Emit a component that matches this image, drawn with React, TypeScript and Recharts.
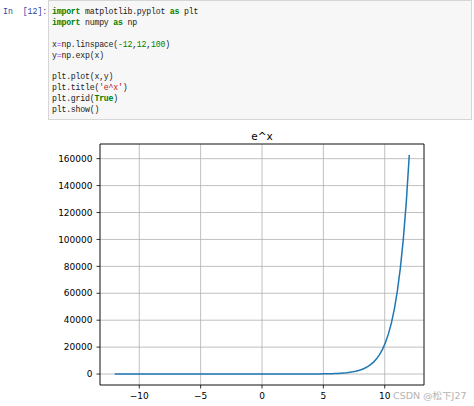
import React from 'react';
import { LineChart, Line, XAxis, YAxis, CartesianGrid, ReferenceLine } from 'recharts';

const xValues = [
  -12, -11.7576, -11.5152, -11.2727, -11.0303, -10.7879, -10.5455, -10.303, -10.0606, -9.8182,
  -9.5758, -9.3333, -9.0909, -8.8485, -8.6061, -8.3636, -8.1212, -7.8788, -7.6364, -7.3939,
  -7.1515, -6.9091, -6.6667, -6.4242, -6.1818, -5.9394, -5.697, -5.4545, -5.2121, -4.9697,
  -4.7273, -4.4848, -4.2424, -4.0, -3.7576, -3.5152, -3.2727, -3.0303, -2.7879, -2.5455,
  -2.303, -2.0606, -1.8182, -1.5758, -1.3333, -1.0909, -0.8485, -0.6061, -0.3636, -0.1212,
  0.1212, 0.3636, 0.6061, 0.8485, 1.0909, 1.3333, 1.5758, 1.8182, 2.0606, 2.303,
  2.5455, 2.7879, 3.0303, 3.2727, 3.5152, 3.7576, 4.0, 4.2424, 4.4848, 4.7273,
  4.9697, 5.2121, 5.4545, 5.697, 5.9394, 6.1818, 6.4242, 6.6667, 6.9091, 7.1515,
  7.3939, 7.6364, 7.8788, 8.1212, 8.3636, 8.6061, 8.8485, 9.0909, 9.3333, 9.5758,
  9.8182, 10.0606, 10.303, 10.5455, 10.7879, 11.0303, 11.2727, 11.5152, 11.7576, 12,
];

const yValues = [
  0.000006144, 0.00000783, 0.000009978, 0.000012715, 0.000016203, 0.000020648, 0.000026313, 0.000033531, 0.00004273, 0.000054452,
  0.00006939, 0.00008843, 0.00011268, 0.0001436, 0.00018299, 0.00023319, 0.00029716, 0.00037868, 0.00048256, 0.00061494,
  0.00078364, 0.0009986, 0.0012726, 0.0016217, 0.0020666, 0.0026335, 0.003356, 0.0042766, 0.0054498, 0.0069449,
  0.00885, 0.011278, 0.014372, 0.018315, 0.023339, 0.029742, 0.037901, 0.048298, 0.061548, 0.078432,
  0.099948, 0.12737, 0.16231, 0.20683, 0.26357, 0.33588, 0.42802, 0.54544, 0.69507, 0.88585,
  1.12886, 1.43856, 1.83321, 2.33612, 2.977, 3.7937, 4.8344, 6.1607, 7.8508, 10.0045,
  12.749, 16.247, 20.704, 26.384, 33.622, 42.846, 54.598, 69.58, 88.66, 112.99,
  143.98, 183.48, 233.82, 297.96, 379.7, 483.87, 616.61, 785.77, 1001.33, 1276.03,
  1626.09, 2072.19, 2640.65, 3365.07, 4288.2, 5464.6, 6963.7, 8874.1, 11308.5, 14410.8,
  18364.1, 23401.9, 29821.7, 38002.7, 48428, 61713, 78643, 100217, 127710, 162755,
];

const xTicks = [-10, -5, 0, 5, 10];
const yTicks = [0, 20000, 40000, 60000, 80000, 100000, 120000, 140000, 160000];
const xDomain = [-13.2, 13.2];
const yDomain = [-8137.75, 170892.75];

const chartTitle = 'e^x';
const promptLabel = 'In  [12]:';
const watermark = 'CSDN @松下J27';

type Tok = [string, string];
const codeLines: Tok[][] = [
  [['kw', 'import'], ['', ' matplotlib.pyplot '], ['kw', 'as'], ['', ' plt']],
  [['kw', 'import'], ['', ' numpy '], ['kw', 'as'], ['', ' np']],
  [],
  [['', 'x'], ['op', '='], ['', 'np.linspace('], ['num', '-12'], ['', ','], ['num', '12'], ['', ','], ['num', '100'], ['', ')']],
  [['', 'y'], ['op', '='], ['', 'np.exp(x)']],
  [],
  [['', 'plt.plot(x,y)']],
  [['', 'plt.title('], ['str', "'e^x'"], ['', ')']],
  [['', 'plt.grid('], ['kw', 'True'], ['', ')']],
  [['', 'plt.show()']],
];

const data = xValues.map((x, i) => ({ x, y: yValues[i] }));

const tokStyle = (k: string): React.CSSProperties => {
  if (k === 'kw') return { color: '#008000', fontWeight: 'bold' };
  if (k === 'op') return { color: '#AA22FF' };
  if (k === 'num') return { color: '#008000' };
  if (k === 'str') return { color: '#BA2121' };
  return { color: '#222' };
};

const fmt = (v: number) => (v < 0 ? '\u2212' + Math.abs(v) : String(v));

const codeFont: React.CSSProperties = {
  fontFamily: '"Liberation Mono", monospace',
  fontSize: 8.2,
  letterSpacing: -0.2,
  whiteSpace: 'pre',
  lineHeight: '10px',
};

export default function App() {
  const lineGap = 10.8;
  const firstCenter = 12.3;
  return (
    <div style={{ position: 'absolute', left: 0, top: 0, width: 474, height: 406, background: '#fff', overflow: 'hidden' }}>
      <div
        style={{
          position: 'absolute', left: 48, top: 0, width: 424, height: 120,
          background: '#f7f7f7', border: '1px solid #d6d6d6', boxSizing: 'border-box',
        }}
      />
      <div style={{ ...codeFont, position: 'absolute', left: 3, top: firstCenter - 5, color: '#303F9F', letterSpacing: 0 }}>{promptLabel}</div>
      {codeLines.map((line, li) => (
        <div key={li} style={{ ...codeFont, position: 'absolute', left: 52, top: firstCenter + li * lineGap - 5 }}>
          {line.map((t, ti) => (
            <span key={ti} style={tokStyle(t[0])}>{t[1]}</span>
          ))}
        </div>
      ))}
      <div style={{ position: 'absolute', left: 0, top: 0 }}>
        <LineChart width={474} height={406} data={data} margin={{ top: 144, right: 50, left: 40, bottom: 1 }}>
          <CartesianGrid stroke="#b0b0b0" strokeWidth={0.8} />
          <XAxis
            type="number"
            dataKey="x"
            domain={xDomain}
            ticks={xTicks}
            allowDataOverflow
            height={20}
            tickFormatter={fmt}
            tick={{ fill: '#000', fontSize: 9, fontFamily: '"DejaVu Sans"' }}
            tickSize={3.5}
            tickMargin={4}
            stroke="#000"
            strokeWidth={0.8}
            interval={0}
          />
          <YAxis
            type="number"
            domain={yDomain}
            ticks={yTicks}
            allowDataOverflow
            width={60}
            tickFormatter={fmt}
            tick={{ fill: '#000', fontSize: 9, fontFamily: '"DejaVu Sans"' }}
            tickSize={3.5}
            tickMargin={4}
            stroke="#000"
            strokeWidth={0.8}
            interval={0}
          />
          <ReferenceLine y={yDomain[1]} stroke="#000" strokeWidth={0.8} />
          <ReferenceLine x={xDomain[1]} stroke="#000" strokeWidth={0.8} />
          <Line type="linear" dataKey="y" stroke="#1f77b4" strokeWidth={1.5} dot={false} isAnimationActive={false} />
        </LineChart>
      </div>
      <div
        style={{
          position: 'absolute', left: 162, width: 200, top: 129, textAlign: 'center',
          fontFamily: '"DejaVu Sans"', fontSize: 10.5, color: '#000', lineHeight: '14px',
        }}
      >
        {chartTitle}
      </div>
      <div
        style={{
          position: 'absolute', left: 393, top: 390, fontFamily: '"DejaVu Sans", "Noto Sans CJK SC"',
          fontSize: 9.5, color: '#b4b4b4', lineHeight: '12px', whiteSpace: 'nowrap',
        }}
      >
        {watermark}
      </div>
    </div>
  );
}
